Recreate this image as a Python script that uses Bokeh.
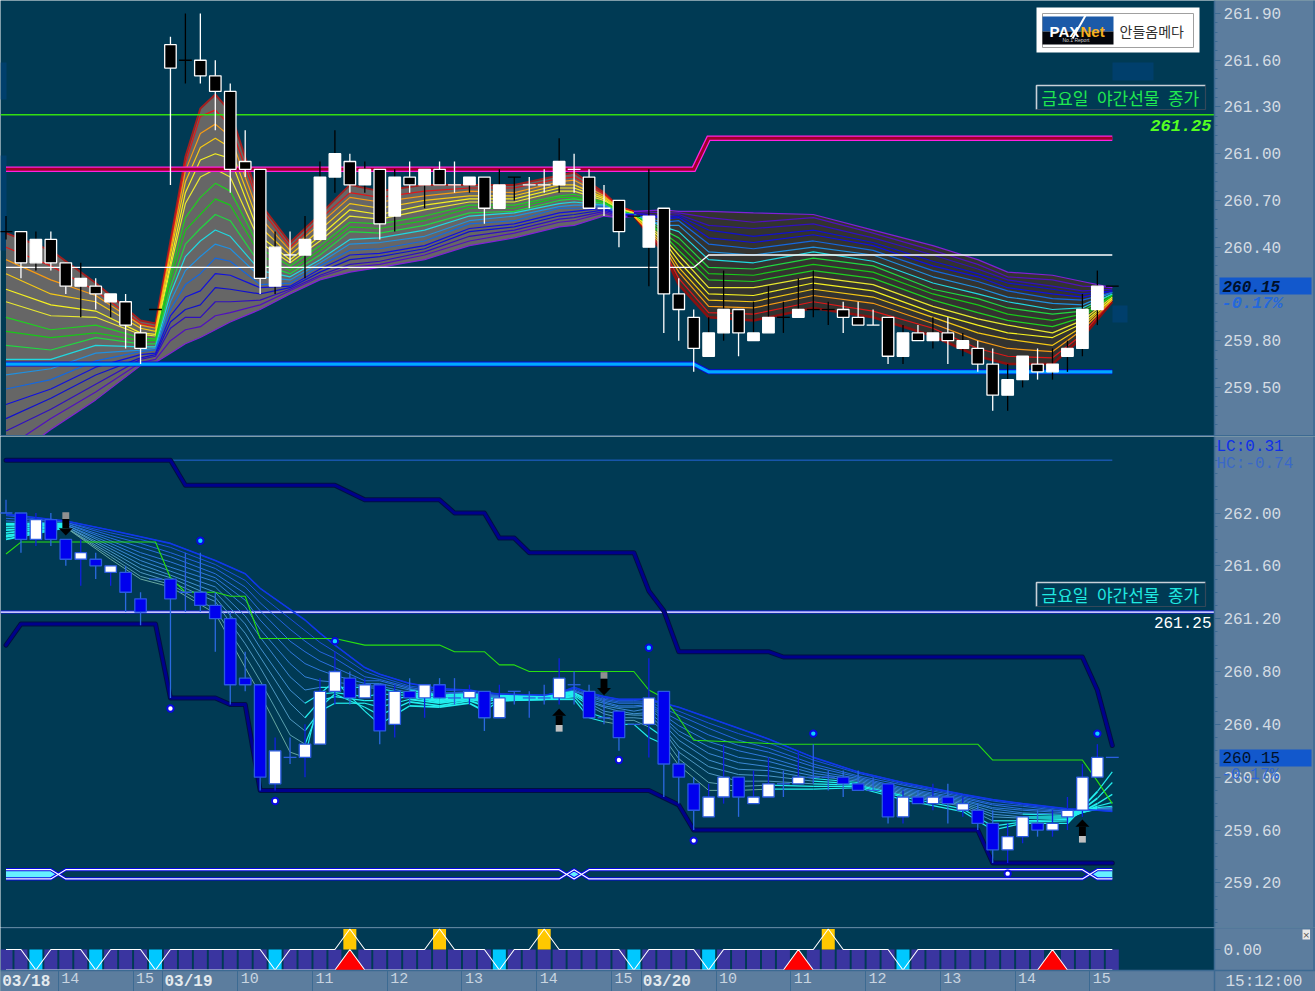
import numpy as np
from bokeh.embed import file_html
from bokeh.resources import INLINE
from bokeh.plotting import figure
from bokeh.layouts import column
from bokeh.models import (Range1d, FixedTicker, NumeralTickFormatter, Label, BoxAnnotation)

# ---------- candles, upper panel (futures) ----------
o1 = [260.50,260.50,260.30,260.45,260.30,260.15,260.15,260.05,260.05,259.85,260.00,261.70,261.60,261.60,261.50,261.40,260.95,260.90,260.15,260.35,
      260.35,260.45,260.85,260.95,260.80,260.90,260.60,260.85,260.80,260.90,260.80,260.80,260.85,260.65,260.85,260.80,260.80,260.80,260.90,260.85,
      260.65,260.70,260.60,260.40,260.65,260.10,259.95,259.70,259.85,260.00,259.80,259.85,259.95,259.95,260.00,260.00,260.00,259.95,259.90,259.95,
      259.70,259.85,259.80,259.85,259.75,259.75,259.65,259.45,259.55,259.65,259.60,259.70,259.75,260.00,260.15]
h1 = [260.60,260.50,260.50,260.50,260.30,260.30,260.20,260.10,260.10,259.90,260.00,261.75,261.90,261.90,261.60,261.45,261.15,260.90,260.50,260.50,
      260.60,260.95,261.15,261.00,260.95,260.90,260.90,260.95,260.90,260.95,260.95,260.85,260.85,260.90,260.85,260.85,260.90,261.10,261.00,260.90,
      260.80,260.70,260.60,260.90,260.65,260.20,260.00,259.95,260.25,260.00,260.05,260.15,260.05,260.20,260.25,260.05,260.05,260.05,260.00,259.95,
      259.90,259.90,259.95,259.95,259.85,259.80,259.75,259.65,259.70,259.75,259.75,259.80,260.10,260.25,260.15]
l1 = [260.45,260.20,260.25,260.25,260.10,259.95,260.00,259.95,259.75,259.65,260.00,260.80,261.45,261.45,261.15,260.75,260.85,260.10,260.10,260.30,
      260.20,260.45,260.75,260.75,260.75,260.45,260.50,260.75,260.65,260.80,260.75,260.75,260.55,260.65,260.70,260.65,260.75,260.75,260.75,260.65,
      260.60,260.40,260.60,260.15,259.85,259.80,259.60,259.70,259.80,259.70,259.80,259.85,259.85,259.95,259.95,259.90,259.85,259.90,259.90,259.65,
      259.65,259.80,259.75,259.65,259.70,259.60,259.35,259.35,259.50,259.55,259.55,259.60,259.70,259.90,260.15]
c1 = [260.50,260.30,260.45,260.30,260.15,260.20,260.10,260.10,259.90,259.75,260.00,261.55,261.60,261.50,261.40,260.90,260.90,260.20,260.40,260.35,
      260.45,260.85,261.00,260.80,260.90,260.55,260.85,260.80,260.90,260.80,260.80,260.85,260.65,260.80,260.85,260.80,260.80,260.95,260.90,260.65,
      260.65,260.50,260.60,260.60,260.10,260.00,259.75,259.85,260.00,259.85,259.85,259.95,259.95,260.00,260.00,260.00,259.95,259.90,259.90,259.70,
      259.85,259.80,259.85,259.80,259.80,259.65,259.45,259.55,259.70,259.60,259.65,259.75,260.00,260.15,260.15]
doji_white = [19,30,35,36,38,40,58]

# ---------- candles, lower panel (spot) ----------
o2 = [262.00,262.00,261.80,261.95,261.80,261.65,261.65,261.55,261.55,261.35,261.50,261.50,261.40,261.40,261.30,261.20,260.75,260.70,259.95,260.15,
      260.15,260.25,260.65,260.75,260.60,260.70,260.40,260.65,260.60,260.70,260.60,260.60,260.65,260.45,260.65,260.60,260.60,260.60,260.70,260.65,
      260.45,260.50,260.40,260.40,260.65,260.10,259.95,259.70,259.85,260.00,259.80,259.85,259.95,259.95,260.00,260.00,260.00,259.95,259.90,259.95,
      259.70,259.85,259.80,259.85,259.75,259.75,259.65,259.45,259.55,259.65,259.60,259.70,259.75,260.00,260.15]
h2 = [262.10,262.00,262.00,262.00,261.80,261.80,261.70,261.60,261.60,261.40,261.50,261.50,261.70,261.70,261.40,261.25,260.95,260.70,260.30,260.30,
      260.40,260.75,260.95,260.80,260.75,260.70,260.70,260.75,260.70,260.75,260.75,260.70,260.65,260.70,260.65,260.65,260.70,260.90,260.80,260.70,
      260.60,260.50,260.40,260.90,260.65,260.20,260.00,259.95,260.25,260.00,260.05,260.15,260.05,260.20,260.25,260.05,260.05,260.05,260.00,259.95,
      259.90,259.90,259.95,259.95,259.85,259.80,259.75,259.65,259.70,259.75,259.75,259.85,260.10,260.25,260.15]
l2 = [262.00,261.70,261.75,261.75,261.60,261.45,261.50,261.45,261.25,261.15,261.50,260.60,261.25,261.25,260.95,260.55,260.65,259.90,259.90,260.10,
      260.00,260.25,260.55,260.55,260.60,260.25,260.30,260.55,260.45,260.60,260.55,260.55,260.35,260.45,260.55,260.45,260.55,260.55,260.55,260.45,
      260.40,260.20,260.40,260.15,259.85,259.80,259.60,259.70,259.80,259.70,259.80,259.85,259.85,259.95,259.95,259.90,259.85,259.90,259.90,259.65,
      259.65,259.80,259.75,259.65,259.70,259.60,259.35,259.35,259.50,259.55,259.55,259.60,259.70,260.00,260.15]
c2 = [262.00,261.80,261.95,261.80,261.65,261.70,261.60,261.60,261.40,261.25,261.50,261.35,261.40,261.30,261.20,260.70,260.70,260.00,260.20,260.15,
      260.25,260.65,260.80,260.60,260.70,260.35,260.65,260.60,260.70,260.60,260.60,260.65,260.45,260.60,260.65,260.60,260.60,260.75,260.70,260.45,
      260.45,260.30,260.40,260.60,260.10,260.00,259.75,259.85,260.00,259.85,259.85,259.95,259.95,260.00,260.00,260.00,259.95,259.90,259.90,259.70,
      259.85,259.80,259.85,259.80,259.80,259.65,259.45,259.55,259.70,259.60,259.65,259.75,260.00,260.15,260.15]

# ---------- upper panel: moving-average ribbon (falling part, red line on top) ----------
rb_a_idx = [0,3,6,9,10,11,12,13,14,15,17,19,21,23,25,28,31,34,37,38,40,41,42]
rb_a = [
 [260.49,260.40,260.32,260.23,260.13,260.05,259.95,259.86,259.77,259.68,259.58,259.49,259.39,259.30,259.22,259.11,259.02],
 [260.38,260.28,260.19,260.10,260.03,259.96,259.87,259.82,259.74,259.68,259.62,259.55,259.49,259.43,259.36,259.30,259.23],
 [260.17,260.12,260.09,260.05,259.99,259.95,259.90,259.85,259.82,259.77,259.72,259.67,259.63,259.58,259.52,259.47,259.42],
 [259.93,259.91,259.90,259.88,259.85,259.84,259.82,259.80,259.78,259.76,259.74,259.73,259.71,259.69,259.68,259.66,259.64],
 [259.91,259.89,259.88,259.86,259.84,259.83,259.81,259.80,259.78,259.76,259.75,259.74,259.72,259.71,259.70,259.68,259.66],
 [260.44,260.41,260.38,260.35,260.30,260.27,260.23,260.19,260.14,260.10,260.05,260.00,259.96,259.92,259.88,259.80,259.72],
 [260.98,260.94,260.89,260.82,260.75,260.68,260.59,260.51,260.42,260.34,260.25,260.16,260.08,260.00,259.95,259.87,259.78],
 [261.29,261.24,261.13,261.04,260.96,260.85,260.72,260.61,260.52,260.44,260.34,260.23,260.12,260.03,259.95,259.89,259.82],
 [261.38,261.28,261.19,261.10,261.00,260.90,260.81,260.71,260.61,260.51,260.42,260.33,260.23,260.14,260.05,259.96,259.87],
 [261.27,261.18,261.11,261.04,260.97,260.85,260.76,260.67,260.57,260.47,260.39,260.31,260.22,260.13,260.05,259.98,259.92],
 [260.68,260.65,260.59,260.53,260.47,260.43,260.39,260.35,260.29,260.25,260.21,260.16,260.14,260.10,260.06,260.03,260.00],
 [260.43,260.40,260.38,260.35,260.32,260.30,260.28,260.25,260.23,260.21,260.19,260.17,260.15,260.14,260.13,260.12,260.10],
 [260.61,260.58,260.55,260.51,260.47,260.44,260.41,260.38,260.35,260.32,260.30,260.28,260.26,260.24,260.22,260.21,260.19],
 [260.80,260.75,260.72,260.68,260.64,260.60,260.56,260.53,260.50,260.45,260.42,260.38,260.35,260.32,260.29,260.27,260.24],
 [260.76,260.72,260.69,260.65,260.61,260.58,260.55,260.52,260.49,260.46,260.43,260.39,260.36,260.34,260.31,260.29,260.27],
 [260.80,260.76,260.73,260.70,260.67,260.64,260.60,260.57,260.54,260.51,260.47,260.44,260.41,260.39,260.37,260.35,260.32],
 [260.80,260.78,260.76,260.73,260.71,260.69,260.67,260.65,260.62,260.60,260.57,260.55,260.52,260.50,260.47,260.44,260.41],
 [260.80,260.78,260.75,260.73,260.71,260.69,260.67,260.65,260.63,260.62,260.60,260.57,260.55,260.53,260.51,260.49,260.46],
 [260.86,260.84,260.82,260.80,260.78,260.76,260.73,260.72,260.70,260.68,260.66,260.65,260.62,260.60,260.58,260.56,260.53],
 [260.88,260.85,260.83,260.80,260.78,260.76,260.74,260.72,260.71,260.69,260.67,260.65,260.63,260.61,260.59,260.57,260.54],
 [260.75,260.74,260.73,260.72,260.71,260.70,260.69,260.69,260.68,260.67,260.67,260.66,260.65,260.64,260.63,260.62,260.60],
 [260.66,260.66,260.65,260.65,260.64,260.64,260.64,260.63,260.63,260.62,260.62,260.62,260.61,260.61,260.60,260.59,260.59],
 [260.63,260.63,260.62,260.62,260.62,260.62,260.61,260.61,260.61,260.61,260.61,260.61,260.61,260.60,260.60,260.60,260.60],
]
# later part: red line at the bottom, violet on top
rb_b_idx = [42,44,45,47,50,54,58,62,65,67,70,72,74]
rb_b = [
 [260.60,260.60,260.60,260.60,260.61,260.61,260.61,260.61,260.61,260.61,260.61,260.61,260.62,260.62,260.62,260.63,260.63],
 [260.36,260.38,260.40,260.42,260.44,260.46,260.48,260.49,260.51,260.53,260.54,260.56,260.58,260.59,260.60,260.62,260.64],
 [260.16,260.20,260.24,260.27,260.31,260.35,260.38,260.42,260.46,260.50,260.54,260.57,260.59,260.60,260.61,260.62,260.63],
 [259.95,259.98,260.02,260.06,260.10,260.14,260.19,260.23,260.27,260.32,260.37,260.42,260.46,260.51,260.54,260.59,260.63],
 [259.93,259.97,260.01,260.05,260.09,260.14,260.18,260.22,260.26,260.30,260.35,260.39,260.43,260.47,260.52,260.56,260.62],
 [260.01,260.05,260.09,260.13,260.17,260.21,260.25,260.29,260.33,260.37,260.40,260.44,260.48,260.51,260.55,260.59,260.61],
 [259.95,259.99,260.04,260.08,260.12,260.16,260.20,260.24,260.28,260.31,260.35,260.38,260.41,260.43,260.46,260.49,260.51],
 [259.83,259.88,259.91,259.95,259.98,260.02,260.06,260.10,260.13,260.17,260.21,260.25,260.28,260.31,260.35,260.38,260.41],
 [259.70,259.75,259.80,259.85,259.90,259.94,259.98,260.03,260.07,260.10,260.14,260.18,260.21,260.23,260.26,260.29,260.32],
 [259.65,259.70,259.75,259.81,259.85,259.90,259.93,259.97,260.01,260.05,260.08,260.12,260.14,260.17,260.19,260.21,260.24],
 [259.65,259.69,259.73,259.77,259.82,259.85,259.89,259.93,259.97,260.00,260.04,260.07,260.10,260.13,260.15,260.19,260.22],
 [259.82,259.84,259.87,259.89,259.91,259.93,259.95,259.97,259.99,260.01,260.03,260.06,260.08,260.10,260.12,260.15,260.18],
 [260.05,260.06,260.06,260.07,260.07,260.08,260.09,260.09,260.10,260.10,260.11,260.11,260.12,260.12,260.13,260.14,260.14],
]
rb_colors = ["#a02020","#e01818","#f59a14","#f5c814","#f5f020","#e8e830","#20d020","#18c818","#20d840","#20d8e0",
             "#2090e0","#1468e0","#1010e0","#1010d0","#3010c0","#5010c0","#8020d8"]

# ---------- upper panel: level lines ----------
step_idx = [0,46,47,74]
level_pink = [260.90,260.90,261.10,261.10]
level_blue = [259.65,259.65,259.60,259.60]
level_white = [260.27,260.27,260.35,260.35]
friday_close = 261.25

# ---------- lower panel: channel lines ----------
upper_idx = [0,11,12,22,24,29,30,32,33,34,35,42,43,44,45,51,52,72,73,74]
upper_val = [262.40,262.40,262.21,262.21,262.10,262.10,262.00,262.00,261.81,261.81,261.70,261.70,261.41,261.26,260.95,260.95,260.91,260.91,260.66,260.24]
lower_idx = [0,1,10,11,14,15,16,17,43,45,46,65,66,74]
lower_val = [261.00,261.16,261.16,260.60,260.60,260.55,260.55,259.90,259.90,259.79,259.60,259.60,259.35,259.35]
green_idx = [0,1,10,11,12,14,15,16,17,22,24,29,30,32,33,34,35,42,43,44,45,46,52,65,66,72,73,74]
green_val = [261.69,261.78,261.78,261.51,261.40,261.40,261.37,261.37,261.05,261.05,261.00,261.00,260.95,260.95,260.85,260.85,260.80,260.80,260.66,260.60,260.45,260.28,260.25,260.25,260.13,260.13,259.97,259.80]
thin_top = 262.40

# ---------- lower panel: fan of averages ----------
fan_idx = [0,4,7,9,11,14,16,17,19,20,21,22,24,25,27,29,31,32,33,36,37,38,39,40,41,42,43,44,45,47,49,51,54,57,60,64,66,68,71,73,74]
fan = [
 [261.99,261.98,261.96,261.94,261.92,261.91,261.89,261.87,261.85,261.83,261.82,261.80],
 [261.94,261.93,261.93,261.92,261.92,261.91,261.91,261.90,261.90,261.89,261.89,261.89],
 [261.87,261.85,261.83,261.81,261.79,261.77,261.75,261.73,261.71,261.69,261.67,261.65],
 [261.82,261.80,261.77,261.74,261.70,261.67,261.64,261.61,261.58,261.55,261.52,261.50],
 [261.77,261.74,261.70,261.67,261.63,261.59,261.56,261.53,261.51,261.48,261.46,261.44],
 [261.64,261.61,261.58,261.54,261.51,261.48,261.44,261.40,261.36,261.33,261.27,261.24],
 [261.54,261.49,261.44,261.39,261.34,261.29,261.22,261.16,261.09,261.01,260.92,260.83],
 [261.43,261.38,261.32,261.26,261.19,261.12,261.06,260.98,260.91,260.83,260.73,260.63],
 [261.27,261.20,261.12,261.03,260.95,260.86,260.76,260.66,260.56,260.44,260.32,260.19],
 [261.19,261.11,261.03,260.95,260.86,260.76,260.66,260.56,260.45,260.35,260.25,260.15],
 [261.09,261.02,260.95,260.88,260.81,260.73,260.68,260.63,260.58,260.50,260.53,260.63],
 [261.00,260.95,260.90,260.83,260.77,260.72,260.68,260.64,260.61,260.56,260.63,260.73],
 [260.83,260.80,260.76,260.73,260.71,260.69,260.68,260.61,260.58,260.56,260.53,260.50],
 [260.78,260.76,260.74,260.73,260.71,260.69,260.67,260.63,260.58,260.53,260.47,260.40],
 [260.71,260.69,260.68,260.67,260.66,260.64,260.63,260.62,260.61,260.59,260.57,260.54],
 [260.67,260.66,260.64,260.63,260.62,260.61,260.59,260.58,260.57,260.56,260.54,260.53],
 [260.66,260.65,260.64,260.64,260.63,260.62,260.62,260.61,260.60,260.59,260.58,260.56],
 [260.64,260.64,260.63,260.62,260.62,260.61,260.60,260.59,260.58,260.57,260.54,260.50],
 [260.63,260.63,260.62,260.62,260.61,260.61,260.60,260.60,260.59,260.59,260.58,260.58],
 [260.62,260.62,260.62,260.61,260.61,260.61,260.60,260.60,260.60,260.59,260.59,260.59],
 [260.64,260.64,260.64,260.63,260.63,260.62,260.62,260.61,260.61,260.60,260.60,260.59],
 [260.68,260.67,260.66,260.65,260.65,260.64,260.64,260.64,260.63,260.62,260.61,260.59],
 [260.64,260.63,260.62,260.62,260.61,260.59,260.58,260.57,260.56,260.54,260.49,260.45],
 [260.61,260.60,260.59,260.58,260.57,260.56,260.54,260.53,260.50,260.48,260.45,260.42],
 [260.59,260.58,260.57,260.56,260.54,260.53,260.52,260.50,260.48,260.45,260.43,260.40],
 [260.59,260.58,260.57,260.56,260.54,260.53,260.50,260.48,260.47,260.45,260.43,260.40],
 [260.59,260.59,260.57,260.56,260.55,260.54,260.52,260.49,260.47,260.44,260.38,260.30],
 [260.56,260.54,260.52,260.49,260.47,260.45,260.43,260.40,260.37,260.35,260.30,260.25],
 [260.53,260.50,260.47,260.43,260.39,260.35,260.32,260.28,260.23,260.19,260.14,260.09],
 [260.45,260.41,260.37,260.32,260.27,260.23,260.18,260.13,260.08,260.03,259.96,259.90],
 [260.37,260.33,260.28,260.24,260.20,260.15,260.11,260.06,260.02,259.97,259.93,259.90],
 [260.29,260.26,260.22,260.19,260.15,260.12,260.08,260.05,260.01,259.97,259.94,259.91],
 [260.15,260.13,260.10,260.08,260.05,260.03,260.01,259.99,259.97,259.95,259.93,259.91],
 [260.04,260.03,260.01,260.00,259.99,259.98,259.97,259.96,259.95,259.94,259.93,259.92],
 [259.96,259.95,259.94,259.92,259.91,259.90,259.89,259.88,259.87,259.86,259.85,259.83],
 [259.87,259.86,259.85,259.84,259.83,259.82,259.81,259.80,259.79,259.78,259.76,259.74],
 [259.83,259.82,259.80,259.79,259.77,259.76,259.74,259.72,259.70,259.67,259.63,259.60],
 [259.80,259.79,259.78,259.76,259.75,259.73,259.72,259.70,259.69,259.67,259.66,259.65],
 [259.76,259.75,259.74,259.74,259.73,259.72,259.71,259.70,259.69,259.68,259.67,259.65],
 [259.75,259.75,259.75,259.76,259.76,259.76,259.76,259.77,259.78,259.80,259.84,259.89],
 [259.74,259.75,259.75,259.76,259.76,259.77,259.77,259.78,259.81,259.87,259.96,260.04],
]
# how many of the fastest lines are cyan in each interval between two knots
fan_cyan = [8,0,0,0,0,0,0,0,0,5,6,6,5,6,8,8,8,6,9,9,8,6,2,0,1,1,2,0,0,0,0,2,5,3,2,2,3,6,8,5]
fan_colors = ["#1038e8","#1a50e0","#2464e0","#2a70e0","#2e78dc","#3280d8","#3a88d4","#4090d0","#4a98c8","#5098c0","#5aa0b0","#68a8a0"]

# ---------- lower panel: crossing band at the foot ----------
band_a = [259.30]*4 + [259.23]*34 + [259.30] + [259.23]*34 + [259.30]*2
band_b = [259.23]*4 + [259.30]*34 + [259.23] + [259.30]*34 + [259.23]*2

# ---------- lower panel: signal dots and arrows ----------
dot_hi_idx = [13,22,43,54,73]
dot_hi_val = [261.79,261.03,260.98,260.33,260.33]
dot_lo_idx = [11,18,41,46,67]
dot_lo_val = [260.52,259.82,260.13,259.52,259.27]
arrow_dn_idx = [4,40]
arrow_dn_tip = [261.83,260.62]
arrow_up_idx = [37,72]
arrow_up_tip = [260.52,259.68]

# ---------- bottom strip ----------
sig_top = [0,0,-1,0,0, 0,-1,0,0,0, -1,0,0,0,0, 0,0,0,-1,0, 0,0,0,1,0, 0,0,0,0,1, 0,0,0,-1,0, 0,1,0,0,0,
           0,0,-1,0,0, 0,0,-1,0,0, 0,0,0,0,0, 1,0,0,0,0, -1,0,0,0,0, 0,0,0,0,0, 0,0,0,0,0]
sig_bot = [-1]*23 + [0] + [-1]*29 + [0] + [-1]*16 + [0] + [-1]*4
cyan_idx = [2,6,10,18,33,42,47,60]
gold_idx = [23,29,36,55]
tri_idx = [23,53,70]

# ---------- axis texts ----------
ticks1 = [261.90,261.60,261.30,261.00,260.70,260.40,259.80,259.50]
ticks2 = [262.00,261.60,261.20,260.80,260.40,260.00,259.60,259.20]
sep_idx = [3.5,8.5,10.5,15.5,20.5,25.5,30.5,35.5,40.5,42.5,47.5,52.5,57.5,62.5,67.5,72.5]
sep_lab = ["14","15","","10","11","12","13","14","15","","10","11","12","13","14","15"]
date_sep = [-0.35,10.5,42.5]
date_lab = ["03/18","03/19","03/20"]

# ---------- layout constants and px helpers (decoration only) ----------
BAR = 14.95
X0 = -0.368
BG = "#003a54"
STRIP = "#5c7d9e"
EDGE = "#3c6a92"
TXT = "#d4dce4"
MONO = "Liberation Mono"
def X(px): return px / BAR + X0
def Y1(py): return 261.90 - (py - 13) / 155.8
def Y2(py): return 262.00 - (py - 512.5) / 132.1
def Y3(py): return (949 - py) / 20.5
x_rng = Range1d(X(0), X(1315))

def mk(h, y0, y1, xaxis=None):
    p = figure(width=1315, height=h, x_range=x_rng, y_range=Range1d(y0, y1), output_backend="svg",
               toolbar_location=None, tools="", x_axis_location=xaxis, y_axis_location="right",
               min_border_left=0, min_border_right=0, min_border_top=0, min_border_bottom=0,
               background_fill_color=BG, border_fill_color=BG, outline_line_color=None)
    p.grid.visible = False
    p.quad(left=X(1214), right=X(1315), bottom=y0, top=y1, fill_color=STRIP, line_color=None)
    p.line([X(1313.5), X(1313.5)], [y0, y1], line_color=EDGE, line_width=1.5)
    a = p.yaxis[0]
    a.fixed_location = X(1214)
    a.axis_line_color = EDGE
    a.axis_line_width = 1.5
    a.major_tick_line_color = EDGE
    a.minor_tick_line_color = EDGE
    a.major_tick_in = 0
    a.major_tick_out = 6
    a.minor_tick_in = 0
    a.minor_tick_out = 3
    a.major_label_standoff = 3
    a.major_label_text_color = TXT
    a.major_label_text_font = MONO
    a.major_label_text_font_size = "16px"
    a.formatter = NumeralTickFormatter(format="0.00")
    return p

p1 = mk(436, Y1(436), Y1(0))
p2 = mk(491, Y2(927), Y2(436))
p3 = mk(64, Y3(991), Y3(927), xaxis="below")
p1.yaxis[0].ticker = FixedTicker(ticks=ticks1, minor_ticks=[round(v, 2) for v in np.arange(259.26, 261.96, 0.06)])
p2.yaxis[0].ticker = FixedTicker(ticks=ticks2, minor_ticks=[round(v, 2) for v in np.arange(258.9, 262.5, 0.1)])
p3.yaxis[0].ticker = FixedTicker(ticks=[0.0])

def txt(p, x, y, s, color, size, font=MONO, style="normal", align="left", bg=None):
    p.add_layout(Label(x=x, y=y, text=s, text_color=color, text_font_size=f"{size}px", text_font=font,
                       text_font_style=style, text_align=align, text_baseline="middle",
                       background_fill_color=bg))

def candles(p, o, h, l, c, body_dn, edge_dn, edge_up, wick_dn, wick_up, doji_col):
    n = len(o)
    idx = list(range(n))
    w_col = [doji_col(i) if c[i] == o[i] else (wick_up if c[i] > o[i] else wick_dn) for i in idx]
    p.segment(idx, l, idx, h, color=w_col, line_width=1.3)
    dj = [i for i in idx if c[i] == o[i]]
    p.segment([i - 0.43 for i in dj], [o[i] for i in dj], [i + 0.43 for i in dj], [o[i] for i in dj],
              color=[doji_col(i) for i in dj], line_width=1.3)
    up = [i for i in idx if c[i] > o[i]]
    dn = [i for i in idx if c[i] < o[i]]
    p.vbar(up, 0.77, [o[i] for i in up], [c[i] for i in up], fill_color="white", line_color=edge_up, line_width=1.3)
    p.vbar(dn, 0.77, [c[i] for i in dn], [o[i] for i in dn], fill_color=body_dn, line_color=edge_dn, line_width=1.3)

# ===== panel 1 =====
for (l_, r_, t_, b_) in [(1112, 1153, 62, 80), (1112, 1127, 305, 322), (0, 6, 62, 99), (0, 6, 155, 250)]:
    p1.quad(left=X(l_), right=X(r_), top=Y1(t_), bottom=Y1(b_), fill_color="#003f6c", line_color=None)

a = np.array(rb_a)
b = np.array(rb_b)
p1.varea(rb_a_idx, a[:, 16], a[:, 0], fill_color="#666666")
p1.varea(rb_b_idx, b[:, 0], b[:, 16], fill_color="#333330")
for k in range(17):
    p1.line(rb_a_idx, a[:, k], line_color=rb_colors[k], line_width=2 if k == 0 else 1.2)
    p1.line(rb_b_idx, b[:, k], line_color="#8a1010" if k == 0 else rb_colors[k], line_width=2.5 if k == 0 else 1.2)

p1.line([X(0), X(1214)], [friday_close, friday_close], line_color="#33dd11", line_width=1.4)
p1.line(step_idx, level_white, line_color="white", line_width=1.3)
p1.line(step_idx, level_pink, line_color="#ff20e0", line_width=5.5, line_join="miter")
p1.line(step_idx, level_pink, line_color="#a00028", line_width=3, line_join="miter")
p1.line(step_idx, level_blue, line_color="#0808d8", line_width=5)
p1.line(step_idx, level_blue, line_color="#00aaff", line_width=3.2)

candles(p1, o1, h1, l1, c1, "black", "white", "white", "white", "black",
        lambda i: "white" if i in doji_white else "black")

# logo
def qpx(p, Y, l_, r_, t_, b_, col, edge=None):
    p.quad(left=X(l_), right=X(r_), top=Y(t_), bottom=Y(b_), fill_color=col, line_color=edge)
qpx(p1, Y1, 1036, 1199, 7, 52, "white")
qpx(p1, Y1, 1042, 1193, 13, 47, "white", "#a0a0a0")
qpx(p1, Y1, 1042, 1113, 16, 31, "#1c5aa8")
qpx(p1, Y1, 1042, 1113, 31, 44, "#04060c")
p1.line([X(1072), X(1085)], [Y1(38), Y1(15)], line_color="white", line_width=2)
txt(p1, X(1049), Y1(31), "PAX", "white", 15, "Liberation Sans", "bold")
txt(p1, X(1080), Y1(31), "Net", "#f5b020", 15, "Liberation Sans", "bold")
txt(p1, X(1062), Y1(39), "No.1 Report", "#d0d0d0", 5, "Liberation Sans")
txt(p1, X(1119), Y1(30), "안들옴메다", "#303030", 14, "Noto Sans CJK KR")

def bevel(p, Y, col_text, t_, b_):
    p.line([X(1036), X(1036), X(1205)], [Y(b_), Y(t_), Y(t_)], line_color="#c8d0d8", line_width=1.6)
    p.line([X(1036), X(1205), X(1205)], [Y(b_), Y(b_), Y(t_)], line_color="#33485a", line_width=1.2)
    txt(p, X(1041), Y((t_ + b_) / 2), "금요일\u2002야간선물\u2002종가", col_text, 17, "Noto Sans CJK KR")
bevel(p1, Y1, "#20e850", 85, 109)
txt(p1, X(1211), Y1(125), "261.25", "#55ff22", 17, MONO, "bold italic", "right")

p1.add_layout(BoxAnnotation(left=X(1219), right=X(1311), top=Y1(277), bottom=Y1(294),
                            fill_color="#1258cc", fill_alpha=1, line_color=None))
txt(p1, X(1222), Y1(286), "260.15", "#00102a", 16, MONO, "bold italic")
txt(p1, X(1221), Y1(303), "-0.17%", "#2468dc", 17, MONO, "bold italic")
p1.line([X(0), X(1315)], [Y1(435.3), Y1(435.3)], line_color=EDGE, line_width=1.5)

# ===== panel 2 =====
p2.line([X(0), X(1214)], [friday_close, friday_close], line_color="#1c1ce8", line_width=3)
p2.line([X(0), X(1214)], [friday_close, friday_close], line_color="white", line_width=1.2)
p2.line([0, 74], [thin_top, thin_top], line_color="#2464d8", line_width=1)

f = np.array(fan)
fx, fy, fc, fw = [], [], [], []
for j in range(len(fan_idx) - 1):
    for k in range(12):
        cy = k >= 12 - fan_cyan[j]
        fx.append([fan_idx[j], fan_idx[j + 1]])
        fy.append([f[j, k], f[j + 1, k]])
        fc.append("#22eeee" if cy else fan_colors[k])
        fw.append((1.8 if fan_cyan[j] >= 8 else 1.2) if cy else 1.0)
p2.multi_line(fx, fy, line_color=fc, line_width=fw)
p2.line(fan_idx, f[:, 0], line_color="#1038e8", line_width=1.6)

p2.line(green_idx, green_val, line_color="#28e010", line_width=1.1)
for xs_, ys_ in [(upper_idx, upper_val), (lower_idx, lower_val)]:
    p2.line(xs_, ys_, line_color="#001040", line_width=5, line_cap="round", line_join="round")
    p2.line(xs_, ys_, line_color="#00008c", line_width=3, line_cap="round", line_join="round")

ba = np.array(band_a)
bb = np.array(band_b)
bx = np.arange(len(ba))
mid = (259.30 + 259.23) / 2
for xs_, hi_, lo_ in [([0, 3, 3.5], [259.30, 259.30, mid], [259.23, 259.23, mid]),
                      ([37.5, 38, 38.5], [mid, 259.30, mid], [mid, 259.23, mid]),
                      ([72.5, 73, 74], [mid, 259.30, 259.30], [mid, 259.23, 259.23])]:
    p2.varea(xs_, lo_, hi_, fill_color="#66f0ff")
for arr in (ba, bb):
    p2.line(bx, arr, line_color="#0808e0", line_width=3.4)
for arr in (ba, bb):
    p2.line(bx, arr, line_color="white", line_width=1.1)

candles(p2, o2, h2, l2, c2, "#0000ee", "#2a5ae0", "#2a5ae0", "#2a6ae0", "#1020e0", lambda i: "#2a60e0")

p2.circle(dot_hi_idx, dot_hi_val, radius=3.2, radius_units="screen", fill_color="#10d0ff", line_color="#0808e0", line_width=2)
p2.circle(dot_lo_idx, dot_lo_val, radius=3.2, radius_units="screen", fill_color="white", line_color="#0808e0", line_width=2)

hw, sw = 0.47, 0.23           # half widths of head and shaft, in bars
hh, sl, tl = 0.055, 0.07, 0.05  # head, black shaft and grey tail lengths, in price
for i, t in zip(arrow_dn_idx, arrow_dn_tip):
    p2.quad(left=i - sw, right=i + sw, bottom=t + hh + sl, top=t + hh + sl + tl, fill_color="#909090", line_color=None)
    p2.quad(left=i - sw, right=i + sw, bottom=t + hh, top=t + hh + sl, fill_color="black", line_color=None)
    p2.patch([i - hw, i + hw, i], [t + hh, t + hh, t], fill_color="black", line_color=None)
for i, t in zip(arrow_up_idx, arrow_up_tip):
    p2.quad(left=i - sw, right=i + sw, top=t - hh - sl, bottom=t - hh - sl - tl, fill_color="#c0c0c0", line_color=None)
    p2.quad(left=i - sw, right=i + sw, top=t - hh, bottom=t - hh - sl, fill_color="black", line_color=None)
    p2.patch([i - hw, i + hw, i], [t - hh, t - hh, t], fill_color="black", line_color=None)

bevel(p2, Y2, "#20e8e0", 582, 606)
txt(p2, X(1211), Y2(622), "261.25", "white", 16, MONO, "normal", "right")
txt(p2, X(1216), Y2(446), "LC:0.31", "#1030e8", 16)
txt(p2, X(1216), Y2(463), "HC:-0.74", "#3a68c8", 16)
p2.add_layout(BoxAnnotation(left=X(1219), right=X(1311), top=Y2(749), bottom=Y2(766),
                            fill_color="#1258cc", fill_alpha=1, line_color=None))
txt(p2, X(1222), Y2(757), "260.15", "#00102a", 16)
txt(p2, X(1221), Y2(774), "-0.17%", "#2c66d8", 16)

# ===== panel 3 =====
n = len(sig_top)
p3.quad(left=X(0), right=X(1315), top=Y3(970), bottom=Y3(991), fill_color=STRIP, line_color=None)
bar_i = [i for i in range(n) if i not in cyan_idx and i not in tri_idx]
p3.vbar(bar_i, 0.87, -1.0, 0.0, fill_color="#3a35a0", line_color=None)
p3.vbar(cyan_idx, 0.87, -1.0, 0.0, fill_color="#00c8ff", line_color=None)
p3.vbar(gold_idx, 0.87, 0.0, 1.0, fill_color="#ffc800", line_color=None)
p3.varea(list(range(n)), [-1.0] * n, sig_bot, fill_color="#ff0000")
p3.line(list(range(n)), sig_top, line_color="white", line_width=1.1)
p3.line(list(range(n)), sig_bot, line_color="white", line_width=1.1)
p3.line([X(0), X(1315)], [Y3(927), Y3(927)], line_color=EDGE, line_width=1.5)

ax = p3.xaxis[0]
label_pos = [round(s + 0.8, 2) for s in sep_idx]
ax.fixed_location = Y3(970)
ax.ticker = FixedTicker(ticks=label_pos, minor_ticks=sep_idx)
ax.major_label_overrides = {k: v for k, v in zip(label_pos, sep_lab)}
ax.axis_line_color = EDGE
ax.axis_line_width = 1.5
ax.major_tick_line_color = None
ax.major_tick_out = 0
ax.major_tick_in = 0
ax.minor_tick_line_color = EDGE
ax.minor_tick_in = 0
ax.minor_tick_out = 21
ax.major_label_standoff = -19
ax.major_label_text_color = "#c8d4e0"
ax.major_label_text_font = MONO
ax.major_label_text_font_size = "15px"
for s, lab in zip(date_sep, date_lab):
    txt(p3, s + 0.1, Y3(981), lab, "#e4eaee", 16, MONO, "bold")
txt(p3, X(1225), Y3(981), "15:12:00", TXT, 16)
txt(p3, X(1302), Y3(934), "×", "#505050", 9, "DejaVu Sans", "normal", "left", "#e8e8e8")

page = column(p1, p2, p3, spacing=0, styles={"position": "absolute", "left": "0px", "top": "0px"})
open("out.html", "w").write(file_html(page, INLINE))
